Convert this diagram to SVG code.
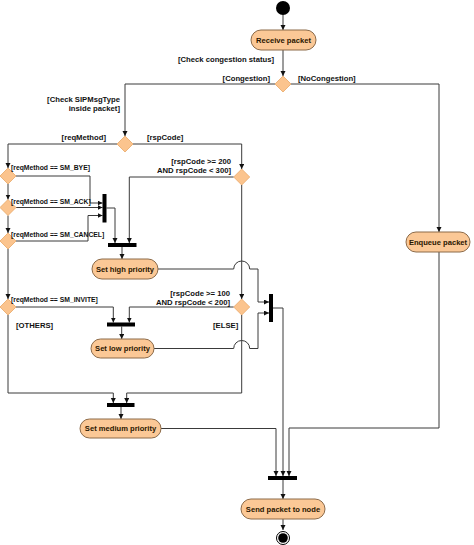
<svg xmlns="http://www.w3.org/2000/svg" width="474" height="545" viewBox="0 0 474 545">
<style>
.n rect{fill:#FBC896;stroke:#8C6A48;stroke-width:1}
.n text{font-family:"Liberation Sans",Arial,sans-serif;font-weight:bold;font-size:7.6px;fill:#2a1600;text-anchor:middle}
.d{fill:#FBC48E;stroke:#E9A867;stroke-width:0.8}
.b{fill:#000}
.c path{fill:none;stroke:#3a3a3a;stroke-width:1}
.c path.a{marker-end:url(#ah)}
.l{font-family:"Liberation Sans",Arial,sans-serif;font-weight:bold;font-size:7.7px;fill:#111}
.l.r{font-size:6.8px}
.e{text-anchor:end}
</style>
<defs>
<marker id="ah" markerUnits="userSpaceOnUse" markerWidth="6" markerHeight="6" refX="5" refY="2.5" orient="auto">
<path d="M0,0 L5,2.5 L0,5 z" fill="#111"/>
</marker>
</defs>
<rect width="474" height="545" fill="#fff"/>
<g class="c">
<path class="a" d="M283,15 V30"/>
<path class="a" d="M283,50 V76"/>
<path class="a" d="M275,84 H125 V136"/>
<path class="a" d="M291,84 H439 V232"/>
<path class="a" d="M439,252 V428 H289 V476"/>
<path class="a" d="M117,144 H8 V168"/>
<path class="a" d="M133,144 H241.7 V169"/>
<path class="a" d="M8,184 V199.5"/>
<path class="a" d="M8,215.5 V233"/>
<path class="a" d="M8,249 V299"/>
<path class="a" d="M8,315 V393 H113.3 V403"/>
<path class="a" d="M16,176 H90 V203 H102.5"/>
<path class="a" d="M16,207.5 H102.5"/>
<path class="a" d="M16,241 H88 V215.5 H102.5"/>
<path class="a" d="M106.5,208 H115 V243"/>
<path class="a" d="M233.7,177 H129.3 V243"/>
<path class="a" d="M122,247 V259"/>
<path class="a" d="M158,269 H233.7 A8,8 0 0 1 249.7,269 H258 V302 H269"/>
<path class="a" d="M273,308 H283 V476"/>
<path class="a" d="M241.7,185 V299"/>
<path class="a" d="M233.7,307 H129.3 V322.5"/>
<path class="a" d="M16,307 H113.3 V322.5"/>
<path class="a" d="M121.7,326.5 V339"/>
<path class="a" d="M154,348.5 H233.7 A8,8 0 0 1 249.7,348.5 H258 V313 H269"/>
<path class="a" d="M241.7,315 V393 H126.7 V403"/>
<path class="a" d="M121,407 V419"/>
<path class="a" d="M161,428.5 H276 V476"/>
<path class="a" d="M283,480 V499"/>
<path class="a" d="M283,519 V530"/>
</g>
<g id="start"><circle cx="283" cy="8" r="7" fill="#000"/></g>
<g id="receive" class="n"><rect x="251" y="30" width="65" height="20" rx="10"/><text x="283.5" y="42.8">Receive packet</text></g>
<g id="dec1"><polygon class="d" points="283,76 291,84 283,92 275,84"/></g>
<g id="enqueue" class="n"><rect x="406" y="232" width="64" height="20" rx="10"/><text x="438" y="244.8">Enqueue packet</text></g>
<g id="dec2"><polygon class="d" points="125,136 133,144 125,152 117,144"/></g>
<g id="decBye"><polygon class="d" points="8,168 16,176 8,184 0,176"/></g>
<g id="decAck"><polygon class="d" points="8,199.5 16,207.5 8,215.5 0,207.5"/></g>
<g id="decCancel"><polygon class="d" points="8,233 16,241 8,249 0,241"/></g>
<g id="decInvite"><polygon class="d" points="8,299 16,307 8,315 0,307"/></g>
<g id="decRsp1"><polygon class="d" points="241.7,169 249.7,177 241.7,185 233.7,177"/></g>
<g id="decRsp2"><polygon class="d" points="241.7,299 249.7,307 241.7,315 233.7,307"/></g>
<g id="bar1"><rect class="b" x="102.5" y="194" width="4" height="28.5"/></g>
<g id="bar2"><rect class="b" x="108" y="243" width="28.5" height="4"/></g>
<g id="bar3"><rect class="b" x="107" y="322.5" width="28" height="4"/></g>
<g id="bar4"><rect class="b" x="107" y="403" width="27.5" height="4"/></g>
<g id="bar5"><rect class="b" x="269" y="294" width="4" height="28"/></g>
<g id="bar6"><rect class="b" x="268" y="476" width="29" height="4"/></g>
<g id="high" class="n"><rect x="92" y="259" width="66" height="20" rx="10"/><text x="125" y="271.8">Set high priority</text></g>
<g id="low" class="n"><rect x="91" y="339" width="63" height="19" rx="9.5"/><text x="122.5" y="351.3">Set low priority</text></g>
<g id="medium" class="n"><rect x="80" y="419" width="81" height="19" rx="9.5"/><text x="120.5" y="431.3">Set medium priority</text></g>
<g id="send" class="n"><rect x="241" y="499" width="84" height="20" rx="10"/><text x="283" y="511.8">Send packet to node</text></g>
<g id="end"><circle cx="283" cy="538" r="6.5" fill="#fff" stroke="#000" stroke-width="1"/><circle cx="283" cy="538" r="4.8" fill="#000"/></g>
<g id="labels">
<text class="l e" x="274" y="62">[Check congestion status]</text>
<text class="l e" x="270" y="81">[Congestion]</text>
<text class="l" x="298" y="81">[NoCongestion]</text>
<text class="l e" x="120" y="102">[Check SIPMsgType</text>
<text class="l e" x="120" y="111">inside packet]</text>
<text class="l e" x="106" y="139.5">[reqMethod]</text>
<text class="l" x="147" y="139.5">[rspCode]</text>
<text class="l e" x="231" y="164">[rspCode &gt;= 200</text>
<text class="l e" x="231" y="172.5">AND rspCode &lt; 300]</text>
<text class="l r" x="11" y="170">[reqMethod == SM_BYE]</text>
<text class="l r" x="11" y="203.5">[reqMethod == SM_ACK]</text>
<text class="l r" x="11" y="237">[reqMethod == SM_CANCEL]</text>
<text class="l r" x="11" y="302">[reqMethod == SM_INVITE]</text>
<text class="l" x="16" y="328">[OTHERS]</text>
<text class="l e" x="230" y="295.5">[rspCode &gt;= 100</text>
<text class="l e" x="230" y="304.5">AND rspCode &lt; 200]</text>
<text class="l" x="213" y="328">[ELSE]</text>
</g>
</svg>
